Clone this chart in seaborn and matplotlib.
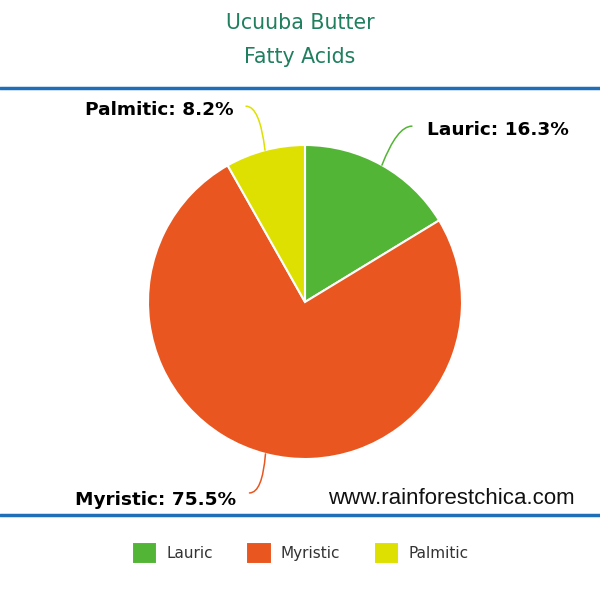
import numpy as np
import matplotlib
matplotlib.use('Agg')
import matplotlib.pyplot as plt
import seaborn as sns

# data
acids = ['Lauric', 'Myristic', 'Palmitic']
percent = [16.3, 75.5, 8.2]
colors = ['#52b535', '#ea561f', '#dde000']

sns.set_theme(style='white')
plt.rcParams['font.family'] = ['DejaVu Sans']

fig = plt.figure(figsize=(6, 6), dpi=100)
ax = fig.add_axes([0, 0, 1, 1])

H = 600
cx, cy, r = 305, H - 302, 157
wedges, _ = ax.pie(percent, colors=sns.color_palette(colors), startangle=90, counterclock=False,
                   center=(cx, cy), radius=r,
                   wedgeprops=dict(edgecolor='white', linewidth=1.5))
ax.set_xlim(0, 600)
ax.set_ylim(0, 600)
ax.set_aspect('equal')
ax.axis('off')

# label layout: line end offset from wedge edge, hook direction at the end,
# tilt of the straight part, text position
layout = {
    'Lauric':   dict(dx=30, dy=39, hook=0, tilt=8, tx=427, ty=130, ha='left'),
    'Myristic': dict(dx=-16, dy=-39, hook=180, tilt=10, tx=236, ty=500, ha='right'),
    'Palmitic': dict(dx=-19, dy=44, hook=180, tilt=-8, tx=234, ty=110, ha='right'),
}
for w, name, pct, col in zip(wedges, acids, percent, colors):
    mid = (w.theta1 + w.theta2) / 2
    ang = np.deg2rad(mid)
    sx, sy = cx + r * np.cos(ang), cy + r * np.sin(ang)
    L = layout[name]
    ax.annotate('', xy=(sx, sy), xytext=(sx + L['dx'], sy + L['dy']),
                arrowprops=dict(arrowstyle='-', color=col, lw=1.1,
                                shrinkA=0, shrinkB=0,
                                connectionstyle=f"angle3,angleA={L['hook']},angleB={mid + L['tilt']}"))
    ax.text(L['tx'], H - L['ty'], f'{name}: {pct}%', ha=L['ha'], va='center',
            fontsize=13.3, fontweight='bold', color='black')

# title and rules
fig.text(0.5, 1 - 23 / H, 'Ucuuba Butter', ha='center', va='center', fontsize=14.8, color='#1f7f5f')
fig.text(0.5, 1 - 57 / H, 'Fatty Acids', ha='center', va='center', fontsize=14.8, color='#1f7f5f')
for yy in (88, 515):
    ax.axhline(H - yy, color='#1f6fb8', lw=2.5)

ax.text(575, H - 498, 'www.rainforestchica.com', ha='right', va='center',
        fontsize=16, family='Liberation Sans', color='#111111')

fig.legend(wedges, acids, loc='center', bbox_to_anchor=(0.5, 1 - 553 / H), ncol=3,
           frameon=False, fontsize=11, handlelength=1.65, handleheight=1.85,
           columnspacing=2.2, handletextpad=0.6, labelcolor='#333333')

fig.savefig('out.png', dpi=100)
